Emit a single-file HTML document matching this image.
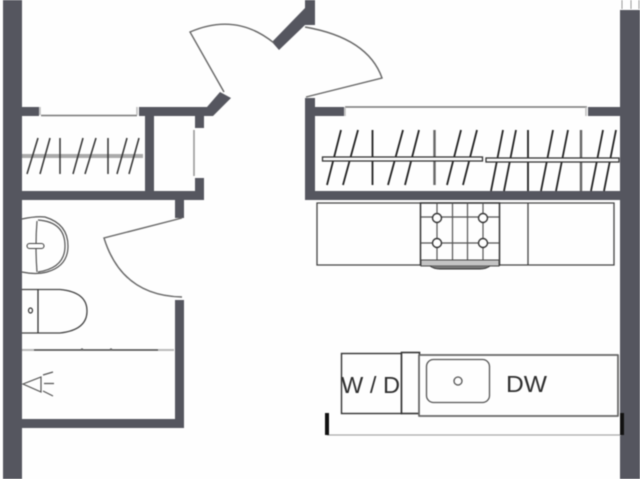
<!DOCTYPE html>
<html>
<head>
<meta charset="utf-8">
<style>
html,body{margin:0;padding:0;background:#fefefe;width:640px;height:479px;overflow:hidden}
svg{display:block;filter:blur(.4px)}
text{font-family:"Liberation Sans",sans-serif;fill:#2e2e2e}
</style>
</head>
<body>
<svg width="640" height="479" viewBox="0 0 640 479" xmlns="http://www.w3.org/2000/svg">
<rect width="640" height="479" fill="#fefefe"/>

<!-- walls -->
<g fill="#55565f">
<rect x="3" y="0" width="19" height="479"/>
<rect x="620" y="10" width="20" height="469"/>
<rect x="22" y="107" width="17" height="9"/>
<polygon points="139,107 207,107 220,92 231,98 213,116 204,116 204,128 195,128 195,116 154,116 154,191 195,191 195,178 204,178 204,200 184,200 184,218 175,218 175,200 22,200 22,191 145,191 145,116 139,116"/>
<polygon points="305,0 315,0 315,25 305,25 279,50 272,42 305,8"/>
<polygon points="305,98 315,98 315,107 344,107 344,116 315,116 315,191 620,191 620,200 305,200"/>
<rect x="588" y="107" width="32" height="9"/>
<polygon points="175,300 184,300 184,428 22,428 22,419 175,419"/>
</g>

<!-- window lines -->
<g stroke="#999" stroke-width="1" fill="none">
<path d="M622 0V9M631 0V9M639 0V9"/>
<path d="M345 107H587" stroke="#777" stroke-width="1.500"/>
<path d="M41 115.500H137" stroke="#777" stroke-width="1.400"/>
<path d="M194 130V176" stroke="#999" stroke-width="1.600"/>
<path d="M40 107V115M137 107V115M345 107V116M586 107V116" stroke="#bbb" stroke-width="1.500"/>
</g>

<!-- doors -->
<g fill="none" stroke="#666" stroke-width="1.400">
<path d="M224 92L190 32Q236 12 274 43"/>
<path d="M306 97L382 78Q368 38 305 27"/>
<path d="M182 218L104 238Q122 296 182 297"/>
</g>

<!-- left closet rod & hangers -->
<path d="M22 156H143" stroke="#aaa" stroke-width="4"/>
<g stroke="#333" stroke-width="1.500" fill="none">
<path d="M27 174L38 138M40 174L50 138M60 174V138M73 174L83 138M85 174L96 138M108 174V138M117 174L127 138M129 174L139 138"/>
</g>

<!-- right closet hangers -->
<g stroke="#222" stroke-width="1.800" fill="none">
<path d="M327 185L341 130M343 185L358 130M372.500 185V130M388 185L403 130M405 185L419 130M447 185L461 130M463 185L477 130"/>
<path d="M491 191L503 130M504 191L516 130M528 191V130M541 191L553 130M556 191L568 130M591 191L603 130M604 191L616 130"/>
</g>
<path d="M434.500 185V130M581 191V130" stroke="#666" stroke-width="2.400" fill="none"/>
<!-- rods -->
<rect x="322.500" y="157" width="160" height="4" fill="#fff" stroke="#333" stroke-width="1.300"/>
<rect x="486" y="158" width="133" height="4" fill="#fff" stroke="#333" stroke-width="1.300"/>

<!-- kitchen counter -->
<g fill="none" stroke="#444" stroke-width="1.300">
<path d="M317 203H614V265H317Z"/>
<path d="M528 203V265"/>
</g>
<rect x="420.500" y="203" width="79" height="62" fill="#fefefe" stroke="#333" stroke-width="1.500"/>
<g stroke="#555" stroke-width="1.200" fill="none">
<path d="M421 217H499M421 243H499"/>
<path d="M437 203V260M452.500 203V260M467.500 203V260M483 203V260"/>
</g>
<g fill="#fff" stroke="#333" stroke-width="1.400">
<circle cx="437" cy="218" r="4.500"/>
<circle cx="483" cy="218" r="4.500"/>
<circle cx="437" cy="243" r="4.500"/>
<circle cx="483" cy="243" r="4.500"/>
</g>
<rect x="421" y="260" width="78" height="6" fill="#c4c4c4" stroke="#444" stroke-width="1"/>
<path d="M430 266Q434 269 440 269H480Q486 269 490 266" fill="#777" stroke="#333" stroke-width="1"/>

<!-- lower counter -->
<rect x="341.500" y="353.500" width="60" height="60" fill="#fefefe" stroke="#333" stroke-width="1.400"/>
<rect x="401.500" y="352.500" width="18" height="61" fill="#fefefe" stroke="#333" stroke-width="1.600"/>
<path d="M419 355H618V416H419Z" fill="#fefefe" stroke="#666" stroke-width="1.800" stroke-linejoin="round"/>
<rect x="426.500" y="359.500" width="63" height="43" rx="7" fill="#fefefe" stroke="#555" stroke-width="1.300"/>
<circle cx="458" cy="381" r="4" fill="#fefefe" stroke="#555" stroke-width="1.300"/>
<text x="341" y="393" font-size="23" textLength="59" lengthAdjust="spacingAndGlyphs">W / D</text>
<text x="506" y="392" font-size="23" textLength="41" lengthAdjust="spacingAndGlyphs">DW</text>

<!-- bar -->
<path d="M327 435H621" stroke="#aaa" stroke-width="1.200"/>
<rect x="325" y="413" width="4" height="22" fill="#111"/>
<rect x="620" y="413" width="4" height="22" fill="#111"/>

<!-- bath sink -->
<g fill="none" stroke="#555" stroke-width="1.200">
<path d="M22 219Q36 216 45 217Q68 224 68 246Q68 266 47 272Q36 275 22 272"/>
<path d="M38 220Q65 222 65 246Q65 268 38 272"/>
<path d="M37 221Q35 246 37 272"/>
</g>
<rect x="27" y="243.500" width="17" height="5" rx="2.500" fill="#fefefe" stroke="#444" stroke-width="1.100"/>

<!-- toilet -->
<path d="M22 289.500H60Q87 292 87 311Q87 330 60 333H22" fill="none" stroke="#444" stroke-width="1.300"/>
<path d="M38 289V333" stroke="#333" stroke-width="1.300"/>
<ellipse cx="30.500" cy="310.500" rx="2" ry="2.500" fill="none" stroke="#333" stroke-width="1.200"/>

<!-- shower curtain -->
<path d="M22 350H34" stroke="#bbb" stroke-width="2"/>
<path d="M34 350H158" stroke="#444" stroke-width="1.400"/>
<path d="M158 350H174" stroke="#bbb" stroke-width="2"/>
<circle cx="82" cy="349.500" r="1.300" fill="#666"/>
<circle cx="111" cy="349.500" r="1.300" fill="#666"/>

<!-- shower head -->
<g fill="none" stroke="#555" stroke-width="1.200">
<path d="M23 384L41 377V392Z"/>
<path d="M43 375L53 372M44 383.500H54M43 391L53 396"/>
</g>
</svg>
</body>
</html>
